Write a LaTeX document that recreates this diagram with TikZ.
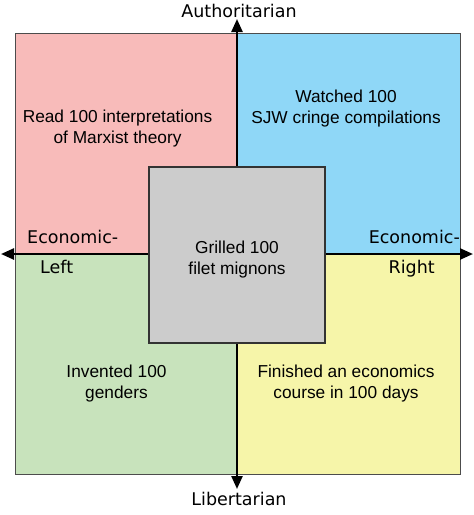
\documentclass[tikz,border=0pt]{standalone}
\usepackage{fontspec}
\setmainfont{Liberation Sans}
\newfontfamily\axisfont{DejaVu Sans}
\usetikzlibrary{arrows.meta}
\definecolor{qred}{HTML}{F8BBBA}
\definecolor{qblue}{HTML}{8FD7F7}
\definecolor{qgreen}{HTML}{C8E3BC}
\definecolor{qyellow}{HTML}{F6F5A9}
\definecolor{qgrey}{HTML}{CCCCCC}
\begin{document}
\begin{tikzpicture}[x=1pt,y=-1pt,
  quad/.style={fill=#1,draw=none},
  qtext/.style={font=\fontsize{17.3}{21}\selectfont,align=center,anchor=base,inner sep=0pt},
  atext/.style={font=\axisfont\fontsize{17.5}{21}\selectfont,anchor=base,inner sep=0pt},
  axis/.style={line width=2.4pt,-{Triangle[length=13pt,width=11pt]}}]
\useasboundingbox (0,0) rectangle (474,515);
\fill[qred] (15,33) rectangle (237,254);
\fill[qblue] (237,33) rectangle (460,254);
\fill[qgreen] (15,254) rectangle (237,474);
\fill[qyellow] (237,254) rectangle (460,474);
\draw[line width=1pt,draw=black!70] (15,33) rectangle (460,474);
\coordinate (c) at (237,254);
\coordinate (top) at (237,19);
\coordinate (bot) at (237,489);
\coordinate (lft) at (1,254);
\coordinate (rgt) at (473,254);
\draw[axis] (c) -- (top);
\draw[axis] (c) -- (bot);
\draw[axis] (c) -- (lft);
\draw[axis] (c) -- (rgt);
\node[draw=black!80,line width=1.4pt,fill=qgrey,minimum width=176pt,minimum height=176pt,inner sep=0pt] (mid) at (237,255) {};
\node[qtext] (grill) at (237,274) {Grilled 100\\filet mignons};
\node[qtext] (marx) at (117.5,143) {Read 100 interpretations\\of Marxist theory};
\node[qtext] (sjw) at (346,123) {Watched 100\\SJW cringe compilations};
\node[qtext] (gend) at (116.5,398) {Invented 100\\genders};
\node[qtext] (econ) at (346,398) {Finished an economics\\course in 100 days};
\node[atext] (auth) at (239,17) {Authoritarian};
\node[atext] (lib) at (239,505) {Libertarian};
\node[atext,anchor=base west] (el1) at (27,243) {Economic-};
\node[atext,anchor=base west] (el2) at (40,273) {Left};
\node[atext,anchor=base east] (er1) at (460,243) {Economic-};
\node[atext,anchor=base east] (er2) at (435,273) {Right};
\end{tikzpicture}
\end{document}
